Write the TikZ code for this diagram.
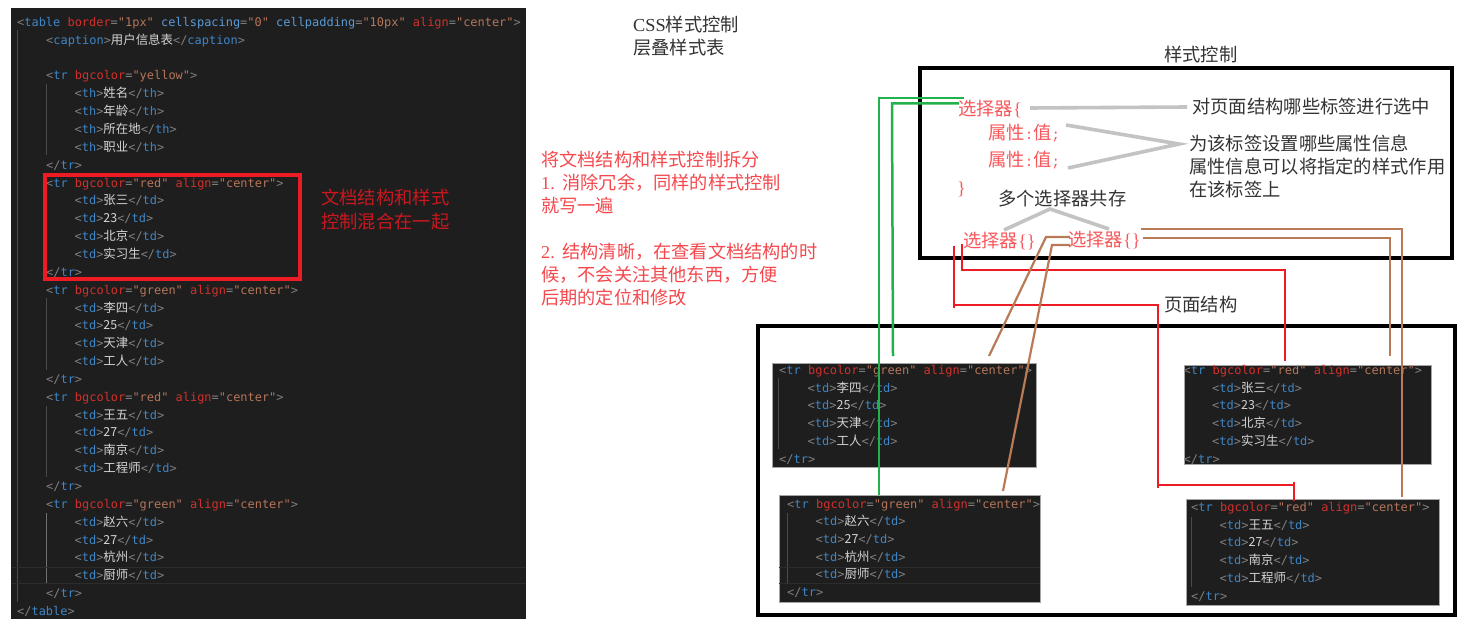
\documentclass[tikz,border=0pt]{standalone}
\usepackage{fontspec}
\setmainfont{Noto Sans CJK SC}
\newfontfamily\zhfont{Noto Sans CJK SC}
\newfontfamily\zhcode[Scale=1.04]{Noto Sans CJK SC}
\newfontfamily\codemono{DejaVu Sans Mono}
\newfontfamily\latm{Liberation Mono}
\newfontfamily\lats{Liberation Serif}
\definecolor{cbg}{HTML}{1E1E1E}
\definecolor{cbr}{HTML}{808080}
\definecolor{ctag}{HTML}{3F86C6}
\definecolor{cattr}{HTML}{D0312D}
\definecolor{cblue}{HTML}{5A9BD5}
\definecolor{cstr}{HTML}{B5755A}
\definecolor{ctxt}{HTML}{D4D4D4}
\definecolor{cguide}{HTML}{4A4A4A}
\definecolor{cguideb}{HTML}{707070}
\definecolor{chl}{HTML}{2C2C2C}
\definecolor{mygreen}{HTML}{22B14C}
\definecolor{myred}{HTML}{ED1C24}
\definecolor{mybrown}{HTML}{B97A57}
\definecolor{mygray}{HTML}{C3C3C3}
\definecolor{softred}{HTML}{F5484D}
\definecolor{softer}{HTML}{F8585C}
\definecolor{ink}{HTML}{333333}
\newcommand\zh[1]{{\color{ctxt}\zhcode #1}}
\newcommand\tg[1]{\textcolor{cbr}{<}\textcolor{ctag}{#1}\textcolor{cbr}{>}}
\newcommand\ctg[1]{\textcolor{cbr}{</}\textcolor{ctag}{#1}\textcolor{cbr}{>}}
\newcommand\atr[2]{\textcolor{cattr}{#1}\textcolor{cbr}{=}\textcolor{cstr}{"#2"}}
\newcommand\atb[2]{\textcolor{cblue}{#1}\textcolor{cbr}{=}\textcolor{cstr}{"#2"}}
\newcommand\trop[1]{\strut\textcolor{cbr}{<}\textcolor{ctag}{tr} \atr{bgcolor}{#1} \atr{align}{center}\textcolor{cbr}{>}}
\newcommand\trcl{\strut\ctg{tr}}
\newcommand\cell[2]{\strut\hspace*{28.5pt}\tg{#1}\zh{#2}\ctg{#1}}
\newcommand\ind{\hspace*{29pt}}
\newcommand\gl[1]{{\latm\fontsize{14}{23}\selectfont #1}}
\newcommand\ser[1]{{\lats #1}}
\tikzset{
  codefont/.style={font=\codemono\fontsize{11.95}{17.85}\selectfont},
  panelfont/.style={font=\codemono\fontsize{12}{17.7}\selectfont},
  codetext/.style={anchor=north west,inner sep=0pt,align=left,text=ctxt},
  panel/.style={anchor=north west,fill=cbg,draw=cbr!70,line width=.5pt,inner sep=0pt},
  label/.style={anchor=west,inner sep=0pt,font=\fontsize{18.3}{23}\selectfont,align=left},
  redtext/.style={anchor=north west,inner sep=0pt,align=left,text=softred,font=\fontsize{18.2}{23}\selectfont},
  heavybox/.style={draw=black,line width=4pt,anchor=north west,inner sep=0pt,outer sep=0pt},
  guide/.style={draw=cguide,line width=.7pt},
  guideb/.style={draw=cguideb,line width=.7pt},
  hl/.style={draw=chl,line width=.7pt},
  gline/.style={draw=mygray,line width=3.6pt},
  gwire/.style={draw=mygreen,line width=2.5pt},
  rwire/.style={draw=myred,line width=2.6pt},
  bwire/.style={draw=mybrown,line width=2.2pt},
}
\begin{document}
\begin{tikzpicture}[x=1pt,y=-1pt]
\useasboundingbox (0,0) rectangle (1461,623);
\fill[white] (0,0) rectangle (1461,623);

% main code panel
\node[panel,draw=none,minimum width=515pt,minimum height=611pt] (code) at (11,8) {};
\draw[guide] (17,30) -- (17,602);
\draw[guide] (46.5,84) -- (46.5,155);
\draw[guide] (46.5,298) -- (46.5,370);
\draw[guide] (46.5,406) -- (46.5,477);
\draw[guideb] (46.5,513) -- (46.5,583);
\draw[hl] (11,567) -- (526,567);
\draw[hl] (11,583) -- (526,583);
\node[codetext,codefont] (codetxt) at (17,13.7) {%
\strut\textcolor{cbr}{<}\textcolor{ctag}{table} \atr{border}{1px} \atb{cellspacing}{0} \atb{cellpadding}{10px} \atr{align}{center}\textcolor{cbr}{>}\\
\ind\strut\tg{caption}\zh{用户信息表}\ctg{caption}\\
\strut\\
\ind\strut\textcolor{cbr}{<}\textcolor{ctag}{tr} \atr{bgcolor}{yellow}\textcolor{cbr}{>}\\
\ind\cell{th}{姓名}\\
\ind\cell{th}{年龄}\\
\ind\cell{th}{所在地}\\
\ind\cell{th}{职业}\\
\ind\trcl\\
\ind\trop{red}\\
\ind\cell{td}{张三}\\
\ind\cell{td}{23}\\
\ind\cell{td}{北京}\\
\ind\cell{td}{实习生}\\
\ind\trcl\\
\ind\trop{green}\\
\ind\cell{td}{李四}\\
\ind\cell{td}{25}\\
\ind\cell{td}{天津}\\
\ind\cell{td}{工人}\\
\ind\trcl\\
\ind\trop{red}\\
\ind\cell{td}{王五}\\
\ind\cell{td}{27}\\
\ind\cell{td}{南京}\\
\ind\cell{td}{工程师}\\
\ind\trcl\\
\ind\trop{green}\\
\ind\cell{td}{赵六}\\
\ind\cell{td}{27}\\
\ind\cell{td}{杭州}\\
\ind\cell{td}{厨师}\\
\ind\trcl\\
\strut\ctg{table}};
\node[draw=myred,line width=3.5pt,anchor=north west,inner sep=0pt,outer sep=0pt,minimum width=255pt,minimum height=104pt] (mixbox) at (45,175) {};
\node[anchor=north west,inner sep=0pt,align=left,text=myred!85!black,font=\fontsize{18.3}{24}\selectfont] (mixtxt) at (321,189) {文档结构和样式\\控制混合在一起};

% middle text
\node[label,text=ink] (css) at (633,25) {\ser{CSS}样式控制};
\node[label,text=ink] (layer) at (633,48) {层叠样式表};
\node[redtext] (split) at (541,150.5) {将文档结构和样式控制拆分\\\ser{1. }\hspace{1.5pt}消除冗余，同样的样式控制\\就写一遍\\[23pt]\ser{2. }\hspace{1.5pt}结构清晰，在查看文档结构的时\\候，不会关注其他东西，方便\\后期的定位和修改};

% style box
\node[heavybox,minimum width=532pt,minimum height=190pt] (stylebox) at (920,68) {};
\node[label,text=ink] (styletitle) at (1164,55) {样式控制};
\node[label,text=softer] (sel) at (958,109) {选择器\ser{\{}};
\node[label,text=softer] (pv1) at (988,133) {属性\gl{:}值\gl{;}};
\node[label,text=softer] (pv2) at (988,160) {属性\gl{:}值\gl{;}};
\node[label,text=softer] (close) at (957,189) {\ser{\}}};
\node[label,text=ink] (choose) at (1192,107) {对页面结构哪些标签进行选中};
\node[label,text=ink] (setattr) at (1189,143) {为该标签设置哪些属性信息};
\node[label,text=ink] (attrinfo) at (1189,167) {属性信息可以将指定的样式作用};
\node[label,text=ink] (attrinfob) at (1189,190) {在该标签上};
\node[label,text=ink] (many) at (998,199) {多个选择器共存};
\node[label,text=softer] (sela) at (963,241) {选择器\ser{\{\}}};
\node[label,text=softer] (selb) at (1068,240) {选择器\ser{\{\}}};

% structure box
\node[heavybox,minimum width=697pt,minimum height=289pt] (pagebox) at (758,326) {};
\node[label,text=ink] (pagetitle) at (1164,305) {页面结构};

% snippet panels
\node[panel,minimum width=264pt,minimum height=104pt] (p1) at (772,363) {};
\draw[guide] (778,378) -- (778,449);
\node[codetext,panelfont] (p1t) at (779,362) {%
\trop{green}\\\cell{td}{李四}\\\cell{td}{25}\\\cell{td}{天津}\\\cell{td}{工人}\\\trcl};
\node[panel,minimum width=261pt,minimum height=107pt] (p2) at (779,495) {};
\draw[guide] (787.5,513) -- (787.5,584);
\draw[hl] (779,567) -- (1040,567);
\draw[hl] (779,583) -- (1040,583);
\node[codetext,panelfont] (p2t) at (787,495.5) {%
\trop{green}\\\cell{td}{赵六}\\\cell{td}{27}\\\cell{td}{杭州}\\\cell{td}{厨师}\\\trcl};
\node[panel,minimum width=247pt,minimum height=99pt] (p3) at (1183.5,365) {};
\node[codetext,panelfont] (p3t) at (1183.5,362) {%
\trop{red}\\\cell{td}{张三}\\\cell{td}{23}\\\cell{td}{北京}\\\cell{td}{实习生}\\\trcl};
\node[panel,minimum width=253pt,minimum height=106pt] (p4) at (1186,499) {};
\draw[guide] (1191,517) -- (1191,587);
\node[codetext,panelfont] (p4t) at (1191,499) {%
\trop{red}\\\cell{td}{王五}\\\cell{td}{27}\\\cell{td}{南京}\\\cell{td}{工程师}\\\trcl};

% gray explanation strokes
\coordinate (gs1) at (1030,108);
\coordinate (gs2) at (1187,107);
\coordinate (gv1) at (1066,125);
\coordinate (gv2) at (1179,144);
\coordinate (gv3) at (1068,168);
\coordinate (gm1) at (1004,230);
\coordinate (gm2) at (1050,209);
\coordinate (gm3) at (1109,229);
\draw[gline] (gs1) -- (gs2);
\draw[gline] (gv1) -- (gv2) -- (gv3);
\draw[gline] (gm1) -- (gm2) -- (gm3);

% green wires
\coordinate (ga) at (964,98);
\coordinate (gab) at (879,98);
\coordinate (gac) at (879,495);
\coordinate (gb) at (959,103.5);
\coordinate (gbb) at (892,103.5);
\coordinate (gbc) at (893,356);
\draw[gwire] (ga) -- (gab) -- (gac);
\draw[gwire] (gb) -- (gbb) -- (gbc);

% red wires
\coordinate (ra) at (962,244);
\coordinate (rab) at (962,270);
\coordinate (rac) at (1285,270);
\coordinate (rad) at (1285,361);
\draw[rwire] (ra) -- (rab) -- (rac) -- (rad);
\coordinate (rb) at (954,246);
\coordinate (rbs) at (954,308);
\coordinate (rbb) at (954,305);
\coordinate (rbc) at (1158,305);
\coordinate (rbt) at (1158,488);
\coordinate (rbd) at (1158,485);
\coordinate (rbe) at (1294,485);
\coordinate (rbu) at (1294,482);
\coordinate (rbf) at (1294,501);
\draw[rwire] (rb) -- (rbs);
\draw[rwire] (rbb) -- (rbc) -- (rbt);
\draw[rwire] (rbd) -- (rbe);
\draw[rwire] (rbu) -- (rbf);

% brown wires
\coordinate (ba) at (1141,229);
\coordinate (bab) at (1402,229);
\coordinate (bac) at (1402,497);
\coordinate (bb) at (1143,238);
\coordinate (bbb) at (1390,238);
\coordinate (bbc) at (1390,356);
\coordinate (bc) at (1070,237);
\coordinate (bcb) at (1046,237);
\coordinate (bcc) at (989,356);
\coordinate (bd) at (1070,245);
\coordinate (bdb) at (1052,245);
\coordinate (bdc) at (1003,491);
\draw[bwire] (ba) -- (bab) -- (bac);
\draw[bwire] (bb) -- (bbb) -- (bbc);
\draw[bwire] (bc) -- (bcb) -- (bcc);
\draw[bwire] (bd) -- (bdb) -- (bdc);
\end{tikzpicture}
\end{document}
